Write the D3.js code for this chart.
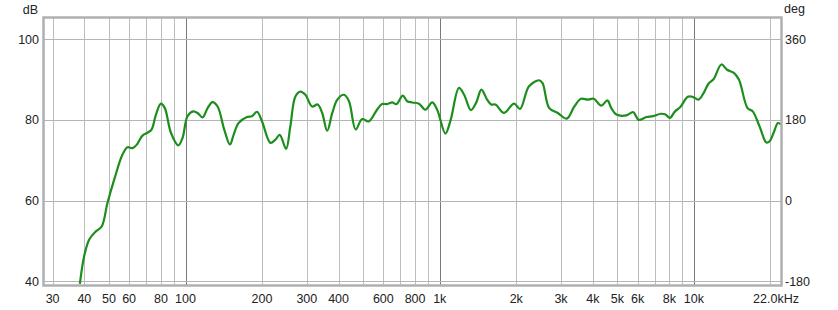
<!DOCTYPE html>
<html>
<head>
<meta charset="utf-8">
<script src="https://cdn.jsdelivr.net/npm/d3@7"></script>
<style>
  html, body { margin: 0; padding: 0; background: #fff; }
  svg { display: block; font-family: "Liberation Sans", Arial, sans-serif; }
  .tick-label { fill: #222; font-size: 12.5px; }
</style>
</head>
<body>
<svg id="chart" width="838" height="310"></svg>
<script>
'use strict';

// frequency response
var freqs = [38.4, 39.9, 41.8, 44.4, 46.8, 49.3, 52.4, 56.5, 59.1, 61.9, 64.4, 67.7, 70.8, 73.5, 76.5, 80.0,
  82.9, 87.6, 93.6, 97.3, 101.8, 107.2, 111.5, 116.7, 122.1, 127.7, 133.7, 142, 149.5, 154.6, 161.6,
  174.5, 182.6, 191.1, 200, 215.7, 225.7, 234.8, 248.6, 258.4, 270.5, 283.1, 296.3, 314.6, 331, 344.8,
  360.9, 377.8, 395.5, 420, 439.5, 466.9, 495, 525.6, 566.6, 593, 620.8, 649.9, 675.6, 715.3, 744.8,
  779.7, 828.8, 878.3, 934, 977, 1053, 1104, 1190, 1247, 1326, 1390, 1458, 1536, 1593, 1657, 1788,
  1960, 2069, 2245, 2460, 2538, 2696, 2913, 3161, 3384, 3595, 3822, 4040, 4319, 4565, 4732, 4953,
  5425, 5765, 6064, 6501, 6912, 7407, 7733, 8040, 8424, 8822, 9460, 9875, 10425, 10910, 11420, 11960,
  12820, 13500, 14360, 15040, 16250, 17030, 18110, 19260, 19850, 20580, 21400, 22000];
var dbValues = [39.4, 46.2, 50.4, 52.4, 53.6, 59.4, 65.2, 71.4, 73.2, 73.0, 73.9, 76.1, 76.8, 77.6, 81.3, 84.0,
  82.9, 76.8, 73.7, 75.5, 80.9, 82.1, 81.7, 80.6, 82.9, 84.4, 83.3, 77.6, 73.9, 76.3, 79.2,
  80.7, 80.9, 82.0, 79.6, 74.3, 75.1, 76.3, 72.8, 78.4, 85.8, 87.0, 86.2, 83.3, 83.8, 81.7,
  77.3, 81.7, 85.0, 86.2, 84.6, 77.6, 80.2, 79.6, 82.5, 83.9, 83.9, 84.3, 83.9, 86.0, 84.6,
  84.3, 84.0, 82.5, 84.3, 82.5, 76.6, 80.0, 87.9, 86.2, 82.4, 84.2, 87.5, 85.0, 83.8, 83.8, 81.7,
  84.0, 82.7, 88.3, 89.8, 89.1, 82.9, 81.7, 80.3, 83.3, 85.2, 85.0, 85.2, 83.5, 84.8, 82.9, 81.3,
  81.1, 81.9, 80.0, 80.7, 80.9, 81.5, 81.3, 80.5, 82.1, 83.1, 85.7, 85.7, 85.0, 86.6, 89.0, 90.1,
  93.7, 92.4, 91.6, 89.9, 82.9, 82.1, 78.4, 74.4, 74.7, 76.8, 79.2, 78.8];

var gridFreqs = [30, 40, 50, 60, 70, 80, 90, 100, 200, 300, 400, 500, 600, 700, 800, 900, 1000,
  2000, 3000, 4000, 5000, 6000, 7000, 8000, 9000, 10000, 20000];
var decadeFreqs = [100, 1000, 10000];
var xTickFreqs = [30, 40, 50, 60, 80, 100, 200, 300, 400, 600, 800, 1000, 2000, 3000, 4000, 5000, 6000, 8000, 10000];
var xTickLabels = ['30', '40', '50', '60', '80', '100', '200', '300', '400', '600', '800', '1k', '2k', '3k', '4k', '5k', '6k', '8k', '10k'];
var dbTicks = [40, 60, 80, 100];
var degTicks = [-180, 0, 180, 360];

var plot = {left: 44, right: 781, top: 18, bottom: 285};

var svg = d3.select('#chart');

var x = d3.scaleLog().domain([27.75, 22000]).range([plot.left, plot.right]);
var y = d3.scaleLinear().domain([39.13, 105.2]).range([plot.bottom, plot.top]);
// phase axis on the right: 180 deg per 20 dB, 0 deg at 60 dB
var yDeg = d3.scaleLinear().domain([-180, 360]).range([y(40), y(100)]);

svg.append('defs').append('clipPath').attr('id', 'plot-clip')
  .append('rect')
  .attr('x', plot.left).attr('y', plot.top)
  .attr('width', plot.right - plot.left).attr('height', plot.bottom - plot.top);

var grid = svg.append('g');

grid.selectAll('line.vgrid')
  .data(gridFreqs)
  .enter().append('line')
  .attr('class', 'vgrid')
  .attr('x1', function(d) { return Math.round(x(d)) + 0.5; })
  .attr('x2', function(d) { return Math.round(x(d)) + 0.5; })
  .attr('y1', plot.top)
  .attr('y2', plot.bottom)
  .attr('stroke', function(d) { return decadeFreqs.indexOf(d) >= 0 ? '#7a7a7a' : '#bdbdbd'; })
  .attr('stroke-width', 1);

grid.selectAll('line.hgrid')
  .data(dbTicks)
  .enter().append('line')
  .attr('class', 'hgrid')
  .attr('x1', plot.left)
  .attr('x2', plot.right)
  .attr('y1', function(d) { return Math.round(y(d)) + 0.5; })
  .attr('y2', function(d) { return Math.round(y(d)) + 0.5; })
  .attr('stroke', '#b4b4b4')
  .attr('stroke-width', 1);

// the response curve
var line = d3.line()
  .x(function(d) { return x(d[0]); })
  .y(function(d) { return y(d[1]); })
  .curve(d3.curveCatmullRom.alpha(0.5));

svg.append('path')
  .datum(d3.zip(freqs, dbValues))
  .attr('clip-path', 'url(#plot-clip)')
  .attr('d', line)
  .attr('fill', 'none')
  .attr('stroke', '#1c8e1c')
  .attr('stroke-width', 2.2)
  .attr('stroke-linejoin', 'round');

// frame
svg.append('rect')
  .attr('x', plot.left - 0.5).attr('y', plot.top - 0.5)
  .attr('width', plot.right - plot.left + 1).attr('height', plot.bottom - plot.top + 1)
  .attr('fill', 'none')
  .attr('stroke', '#b0b0b0')
  .attr('stroke-width', 2.5);

// labels
svg.selectAll('text.xl')
  .data(xTickFreqs)
  .enter().append('text')
  .attr('class', 'tick-label xl')
  .attr('x', function(d) { return x(d); })
  .attr('y', 302.5)
  .attr('text-anchor', 'middle')
  .text(function(d, i) { return xTickLabels[i]; });

svg.append('text')
  .attr('class', 'tick-label')
  .attr('x', 776).attr('y', 302.5)
  .attr('text-anchor', 'middle')
  .text('22.0kHz');

svg.selectAll('text.yl')
  .data(dbTicks)
  .enter().append('text')
  .attr('class', 'tick-label yl')
  .attr('x', 39)
  .attr('y', function(d) { return y(d) + 4.5; })
  .attr('text-anchor', 'end')
  .text(function(d) { return d; });

svg.selectAll('text.yr')
  .data(degTicks)
  .enter().append('text')
  .attr('class', 'tick-label yr')
  .attr('x', 785)
  .attr('y', function(d) { return yDeg(d) + 4.5; })
  .text(function(d) { return d; });

svg.append('text')
  .attr('class', 'tick-label')
  .attr('x', 38).attr('y', 14)
  .attr('text-anchor', 'end')
  .text('dB');

svg.append('text')
  .attr('class', 'tick-label')
  .attr('x', 784).attr('y', 13)
  .text('deg');
</script>
</body>
</html>
